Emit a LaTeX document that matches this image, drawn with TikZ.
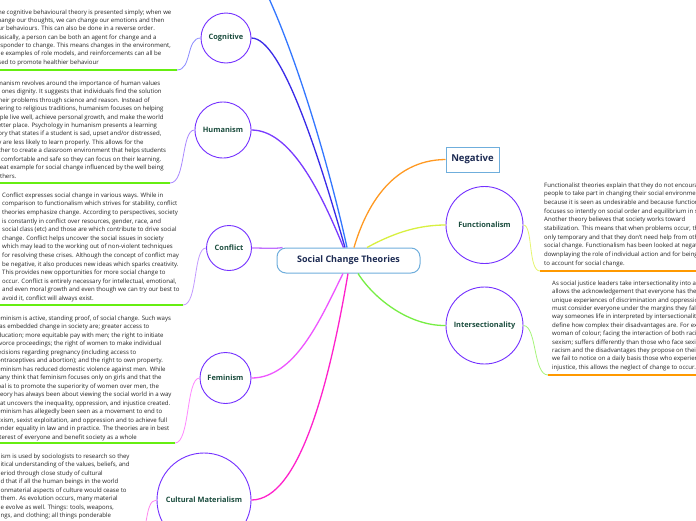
\documentclass[tikz,border=0pt]{standalone}
\usepackage{fontspec}
\setmainfont{Open Sans}
\definecolor{circ}{HTML}{7430FF}
\definecolor{topictxt}{HTML}{1B4D3E}
\definecolor{boxblue}{HTML}{6FAEDC}
\definecolor{navy}{HTML}{1D2B53}
\definecolor{bodytxt}{HTML}{262626}
\definecolor{ugreen}{HTML}{66EE11}
\definecolor{uorange}{HTML}{FF9900}
\definecolor{cTop}{HTML}{3377FF}
\definecolor{cCog}{HTML}{3A2BE8}
\definecolor{cHum}{HTML}{7A3BFF}
\definecolor{cCon}{HTML}{C070FF}
\definecolor{cFem}{HTML}{EE55FF}
\definecolor{cCul}{HTML}{FF22CC}
\definecolor{cNeg}{HTML}{FF9922}
\definecolor{cFun}{HTML}{D8F040}
\definecolor{cInt}{HTML}{77EE44}
\definecolor{lCog}{HTML}{8A8AFF}
\definecolor{lHum}{HTML}{AA88FF}
\definecolor{lCon}{HTML}{C39BFF}
\definecolor{lFem}{HTML}{FF88FF}
\definecolor{lCul}{HTML}{FF88EE}
\definecolor{lFun}{HTML}{E6F570}
\definecolor{lInt}{HTML}{A6F57A}
\begin{document}
\begin{tikzpicture}[x=1pt,y=-1pt,
  body/.style={anchor=north west, inner sep=0pt, align=left, text=bodytxt},
  topic/.style={circle, draw=circ, line width=0.9pt, fill=white, inner sep=0pt, text=topictxt, font=\bfseries\fontsize{7.4}{9}\selectfont},
  rootbox/.style={rectangle, rounded corners=9pt, draw=boxblue, line width=1pt, fill=white, text=navy, font=\bfseries\fontsize{9}{11}\selectfont, minimum width=143pt, minimum height=25pt, inner sep=0pt},
  negbox/.style={rectangle, draw=boxblue, line width=1pt, fill=white, text=navy, font=\bfseries\fontsize{9.5}{11}\selectfont, minimum width=53pt, minimum height=25pt, inner sep=0pt},
  branch/.style={line width=1.3pt},
  twig/.style={line width=0.8pt},
  uline/.style={line width=1.4pt}
]
\clip (0,0) rectangle (696,520);
\fill[white] (0,0) rectangle (696,520);

% nodes
\node[rootbox] (root) at (348.5,260.5) {Social Change Theories};
\node[negbox] (neg) at (472.5,159.5) {Negative};
\node[topic, minimum size=50pt] (cog) at (226,38) {Cognitive};
\node[topic, minimum size=56pt] (hum) at (223,130) {Humanism};
\node[topic, minimum size=45pt] (con) at (229,248) {Conflict};
\node[topic, minimum size=51pt] (fem) at (225.5,378) {Feminism};
\node[topic, minimum size=94pt] (cul) at (204,500) {Cultural Materialism};
\node[topic, minimum size=77pt] (fun) at (484.5,225) {Functionalism};
\node[topic, minimum size=77pt] (int) at (484.5,325.5) {Intersectionality};
\coordinate (upper) at (266,-8);

% text blocks
\node[body, font=\fontsize{6.05}{8.3}\selectfont] (cogT) at (-5.5,9.4) {The cognitive behavioural theory is presented simply;  when we\\
change our thoughts, we can change our emotions and then\\
our behaviours. This can also be done in a reverse order.\\
Basically, a person can be both an agent for change and a\\
responder to change. This means changes in the environment,\\
the examples of role models, and reinforcements can all be\\
used to promote healthier behaviour};

\node[body, font=\fontsize{6.05}{8.45}\selectfont] (humT) at (-11,80.4) {Humanism revolves around the importance of human values\\
and ones dignity. It suggests that individuals find the solution\\
of their problems through science and reason. Instead of\\
adhering to religious traditions, humanism focuses on helping\\
people live well, achieve personal growth, and make the world\\
a better place. Psychology in humanism presents a learning\\
theory that states if a student is sad, upset and/or distressed,\\
they are less likely to learn properly. This allows for the\\
teacher to create a classroom environment that helps students\\
feel comfortable and safe so they can focus on their learning.\\
a great example for social change influenced by the well being\\
of others.};

\node[body, font=\fontsize{6.05}{8.6}\selectfont] (conT) at (2,192.4) {Conflict expresses social change in various ways. While in\\
comparison to functionalism which strives for stability, conflict\\
theories emphasize change. According to perspectives, society\\
is constantly in conflict over resources, gender, race, and\\
social class (etc) and those are which contribute to drive social\\
change. Conflict helps uncover the social issues in society\\
which may lead to the working out of non-violent techniques\\
for resolving these crises. Although the concept of conflict may\\
be negative, it also produces new ideas which sparks creativity.\\
This provides new opportunities for more social change to\\
occur. Conflict is entirely necessary for intellectual, emotional,\\
and even moral growth and even though we can try our best to\\
avoid it, conflict will always exist.};

\node[body, font=\fontsize{6.05}{8.5}\selectfont] (femT) at (-6,315.4) {Feminism is active, standing proof, of social change. Such ways\\
\ has embedded change in society are;   greater access to\\
education;  more equitable pay with men;  the right to initiate\\
divorce proceedings;  the right of women to make individual\\
decisions regarding pregnancy (including access to\\
contraceptives and abortion);  and the right to own property.\\
Feminism has reduced domestic violence against men. While\\
many think that feminism focuses only on girls and that the\\
goal is to promote the superiority of women over men, the\\
theory has always been about viewing the social world in a way\\
that uncovers the inequality, oppression, and injustice created.\\
Feminism has allegedly been seen as a movement to end to\\
sexism, sexist exploitation, and oppression and to achieve full\\
gender equality in law and in practice. The theories are in best\\
interest of everyone and benefit society as a whole};

\node[body, font=\fontsize{6.05}{8.5}\selectfont] (culT) at (0.5,453.4) {ism is used by sociologists to research so they\\
itical understanding of the values, beliefs, and\\
eriod through close study of cultural\\
d that if all the human beings in the world\\
onmaterial aspects of culture would cease to\\
them. As evolution occurs, many material\\
e evolve as well. Things: tools, weapons,\\
ngs, and clothing;  all things ponderable};

\node[body, font=\fontsize{6.05}{8.67}\selectfont] (funT) at (544,182.4) {Functionalist theories explain that they do not encourage\\
people to take part in changing their social environment\\
because it is seen as undesirable and because functionalism\\
focuses so intently on social order and equilibrium in society.\\
Another theory believes that society works toward\\
stabilization. This means that when problems occur, they are\\
only temporary and that they don't need help from others or\\
social change. Functionalism has been looked at negatively for\\
downplaying the role of individual action and for being unable\\
to account for social change.};

\node[body, font=\fontsize{6.05}{8.4}\selectfont] (intT) at (552,280.4) {As social justice leaders take intersectionality into account, it\\
allows the acknowledgement that everyone has their own\\
unique experiences of discrimination and oppression. We\\
must consider everyone under the margins they fall into. The\\
way someones life in interpreted by intersectionality helps\\
define how complex their disadvantages are. For example, a\\
woman of colour;  facing the interaction of both racism and\\
sexism;  suffers differently than those who face sexism or\\
racism and the disadvantages they propose on their own, which\\
we fail to notice on a daily basis those who experience\\
injustice, this allows the neglect of change to occur.};

% underline coordinates
\coordinate (cogU) at (177,70);   \coordinate (cogL) at (-10,70);
\coordinate (humU) at (170,183);  \coordinate (humL) at (-10,183);
\coordinate (conU) at (183,305);  \coordinate (conL) at (-10,305);
\coordinate (femU) at (175,443);  \coordinate (femL) at (-10,443);
\coordinate (culU) at (135,540);
\coordinate (funU) at (540,271);  \coordinate (funR) at (710,271);
\coordinate (intU) at (548,375);  \coordinate (intR) at (710,375);

% main branches
\draw[branch, cTop] ([xshift=-1.5pt]root.north) .. controls (330,170) and (298,60) .. (upper);
\draw[branch, cCog] ([xshift=-3.5pt]root.north) .. controls (320,160) and (282,38) .. (cog.east);
\draw[branch, cHum] ([xshift=-5pt]root.north) .. controls (320,190) and (290,130) .. (hum.east);
\draw[branch, cCon] (con.east) .. controls (265,248) and (275,249) .. ([xshift=6pt]root.north west);
\draw[branch, cFem] ([xshift=-5.5pt]root.south) .. controls (320,320) and (295,378) .. (fem.east);
\draw[branch, cCul] ([xshift=-0.5pt]root.south) .. controls (330,380) and (300,500) .. (cul.east);
\draw[branch, cNeg] ([xshift=5.5pt]root.north) .. controls (365,210) and (390,160) .. (neg.west);
\draw[branch, cFun] ([xshift=18.5pt]root.north) .. controls (390,235) and (415,225) .. (fun.west);
\draw[branch, cInt] ([xshift=9.5pt]root.south) .. controls (375,300) and (410,326) .. (int.west);

% twigs to text blocks
\draw[twig, lCog] (cog.west) .. controls (186,38) and (192,70) .. (cogU);
\draw[twig, lHum] (hum.west) .. controls (181,130) and (186,183) .. (humU);
\draw[twig, lCon] (con.west) .. controls (193,248) and (198,305) .. (conU);
\draw[twig, lFem] (fem.west) .. controls (186,378) and (190,443) .. (femU);
\draw[twig, lCul] (cul.west) .. controls (143,500) and (150,540) .. (culU);
\draw[twig, lFun] (fun.east) .. controls (533,225) and (528,271) .. (funU);
\draw[twig, lInt] (int.east) .. controls (537,326) and (533,375) .. (intU);

% underlines
\draw[uline, ugreen] (cogU) -- (cogL);
\draw[uline, ugreen] (humU) -- (humL);
\draw[uline, ugreen] (conU) -- (conL);
\draw[uline, ugreen] (femU) -- (femL);
\draw[uline, uorange] (funU) -- (funR);
\draw[uline, uorange] (intU) -- (intR);
\end{tikzpicture}
\end{document}
